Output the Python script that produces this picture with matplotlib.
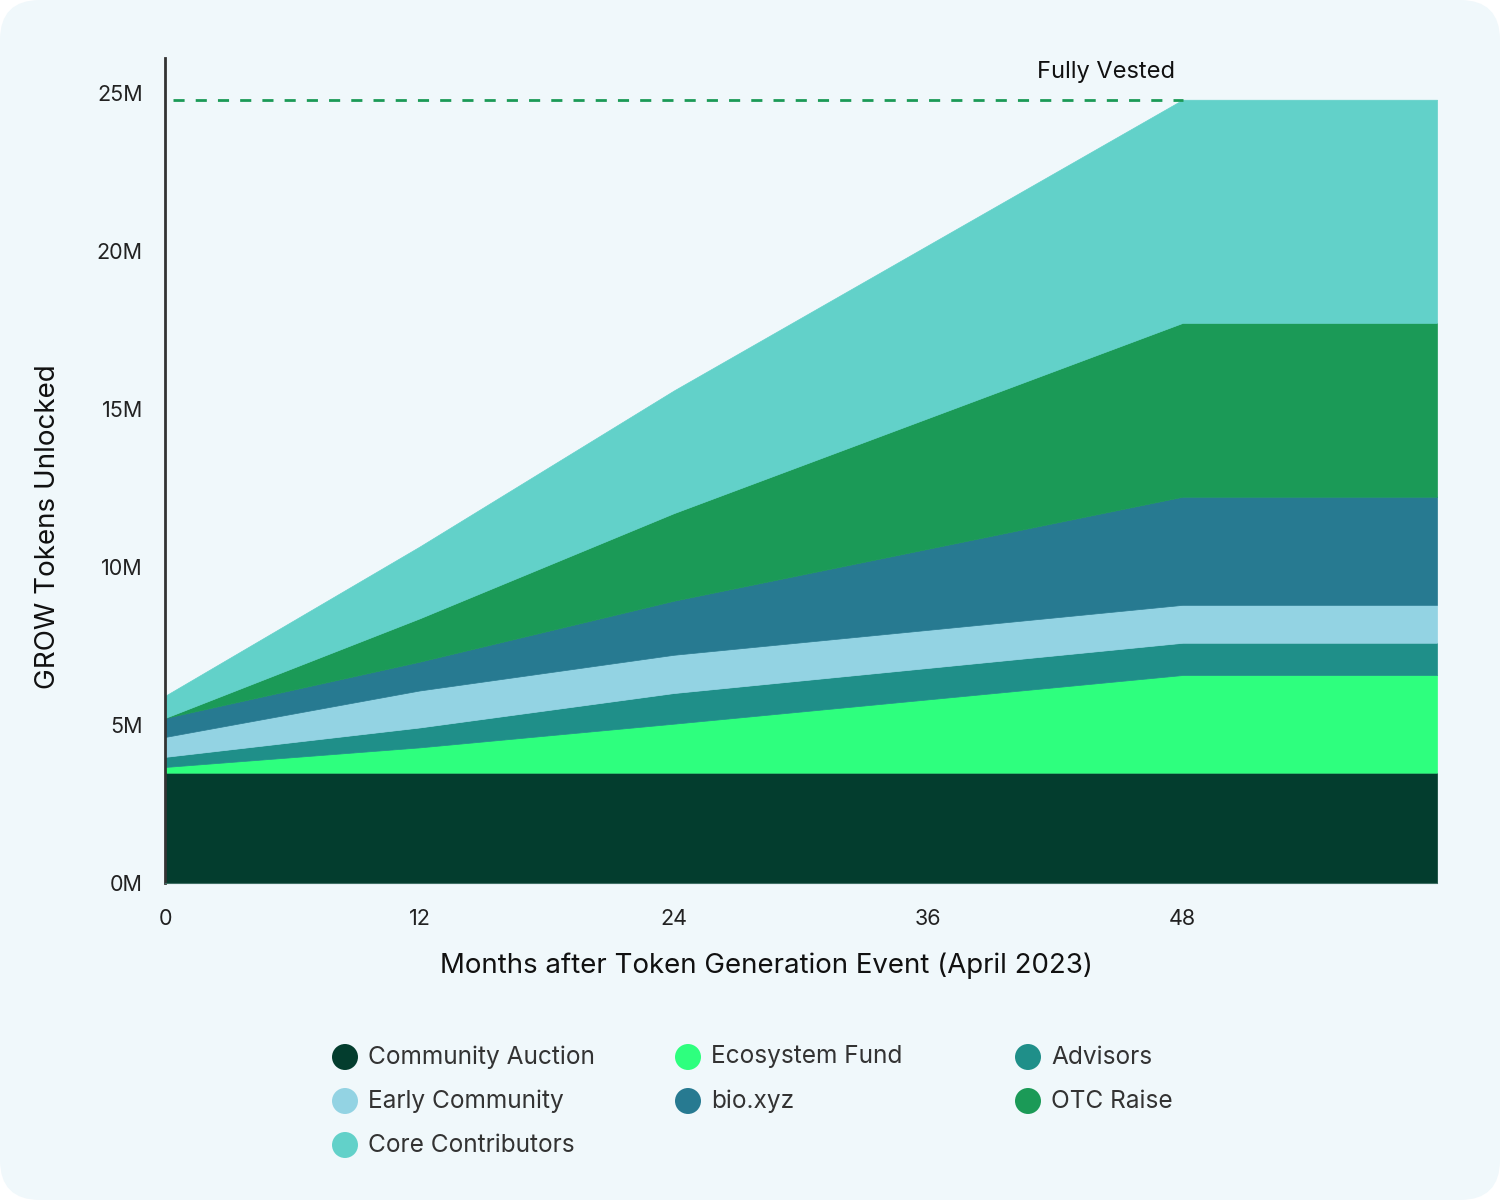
import matplotlib

matplotlib.use('Agg')

import matplotlib.pyplot as plt
from matplotlib.patches import FancyBboxPatch

# months after TGE
months = [0, 12, 24, 48, 60]

# tokens unlocked per allocation (millions), stacked bottom to top
community_auction = [3.49, 3.49, 3.49, 3.49, 3.49]
ecosystem_fund = [0.18, 0.80, 1.55, 3.09, 3.09]
advisors = [0.32, 0.63, 0.97, 1.02, 1.02]
early_community = [0.63, 1.17, 1.21, 1.20, 1.20]
bio_xyz = [0.60, 0.91, 1.71, 3.42, 3.42]
otc_raise = [0.00, 1.37, 2.77, 5.50, 5.50]
core_contributors = [0.70, 2.27, 3.88, 7.06, 7.06]

series = [community_auction, ecosystem_fund, advisors, early_community,
          bio_xyz, otc_raise, core_contributors]
names = ['Community Auction', 'Ecosystem Fund', 'Advisors', 'Early Community',
         'bio.xyz', 'OTC Raise', 'Core Contributors']
colors = ['#033D2E', '#2EFF7E', '#1F8F89', '#93D3E3',
          '#277A91', '#1B9A57', '#62D1C9']

fully_vested = 24.77
x_ticks = [0, 12, 24, 36, 48]
y_ticks = [0, 5, 10, 15, 20, 25]

FONT = 'Inter'
plt.rcParams['font.family'] = [FONT, 'DejaVu Sans']

W, H = 1500, 1200
fig = plt.figure(figsize=(15, 12), dpi=100)
fig.patch.set_facecolor('white')

# rounded panel behind everything
bg = fig.add_axes([0, 0, 1, 1], zorder=0)
bg.axis('off')
bg.set_xlim(0, W)
bg.set_ylim(H, 0)
bg.add_patch(FancyBboxPatch((0, 0), W, H,
                            boxstyle='round,pad=0,rounding_size=40',
                            fc='#F0F8FB', ec='none'))

ax = fig.add_axes([165 / W, 1 - 883 / H, (1437 - 165) / W, (883 - 58) / H], zorder=1)
ax.set_facecolor('none')
polys = ax.stackplot(months, *series, colors=colors, linewidth=0)
for poly, color in zip(polys, colors):
    # same-colour edge hides the antialiasing seams between layers
    poly.set_edgecolor(color)
    poly.set_linewidth(0.5)

ax.set_xlim(0, 60)
ax.set_ylim(0, 26.1)

# fully vested marker
ax.plot([0.4, 48], [fully_vested, fully_vested], color='#1B9A57', lw=2,
        dashes=(4, 4))
ax.text(44.4, 25.65, 'Fully Vested', ha='center', va='center',
        fontsize=17, color='#111111')

ax.set_xticks(x_ticks)
ax.set_xticklabels([str(v) for v in x_ticks])
ax.set_yticks(y_ticks)
ax.set_yticklabels(['{}M'.format(v) for v in y_ticks])
ax.tick_params(axis='both', length=0, labelsize=15.5, colors='#222222')
ax.tick_params(axis='y', pad=16)
ax.tick_params(axis='x', pad=19)

for side in ['top', 'right']:
    ax.spines[side].set_visible(False)
ax.spines['left'].set_color('#333333')
ax.spines['left'].set_linewidth(2)
ax.spines['bottom'].set_color('#3F6F64')
ax.spines['bottom'].set_linewidth(0.8)

fig.text(766 / W, 1 - 966 / H, 'Months after Token Generation Event (April 2023)',
         ha='center', va='center', fontsize=19.9, color='#111111')
fig.text(48 / W, 1 - 527 / H, 'GROW Tokens Unlocked', rotation=90,
         ha='center', va='center', fontsize=20, color='#111111')

# legend, laid out row by row in three columns
leg = fig.add_axes([0, 0, 1, 1], zorder=2)
leg.axis('off')
leg.set_xlim(0, W)
leg.set_ylim(H, 0)
col_x = [345, 688, 1028]
row_y = [1057, 1101, 1145]
for i, (name, color) in enumerate(zip(names, colors)):
    cx = col_x[i % 3]
    cy = row_y[i // 3]
    leg.scatter([cx], [cy], s=350, color=color, edgecolors='none')
    leg.text(cx + 23, cy, name, ha='left', va='center', fontsize=17.6,
             color='#333333')

plt.savefig('out.png', dpi=100, facecolor=fig.get_facecolor())
plt.close(fig)
